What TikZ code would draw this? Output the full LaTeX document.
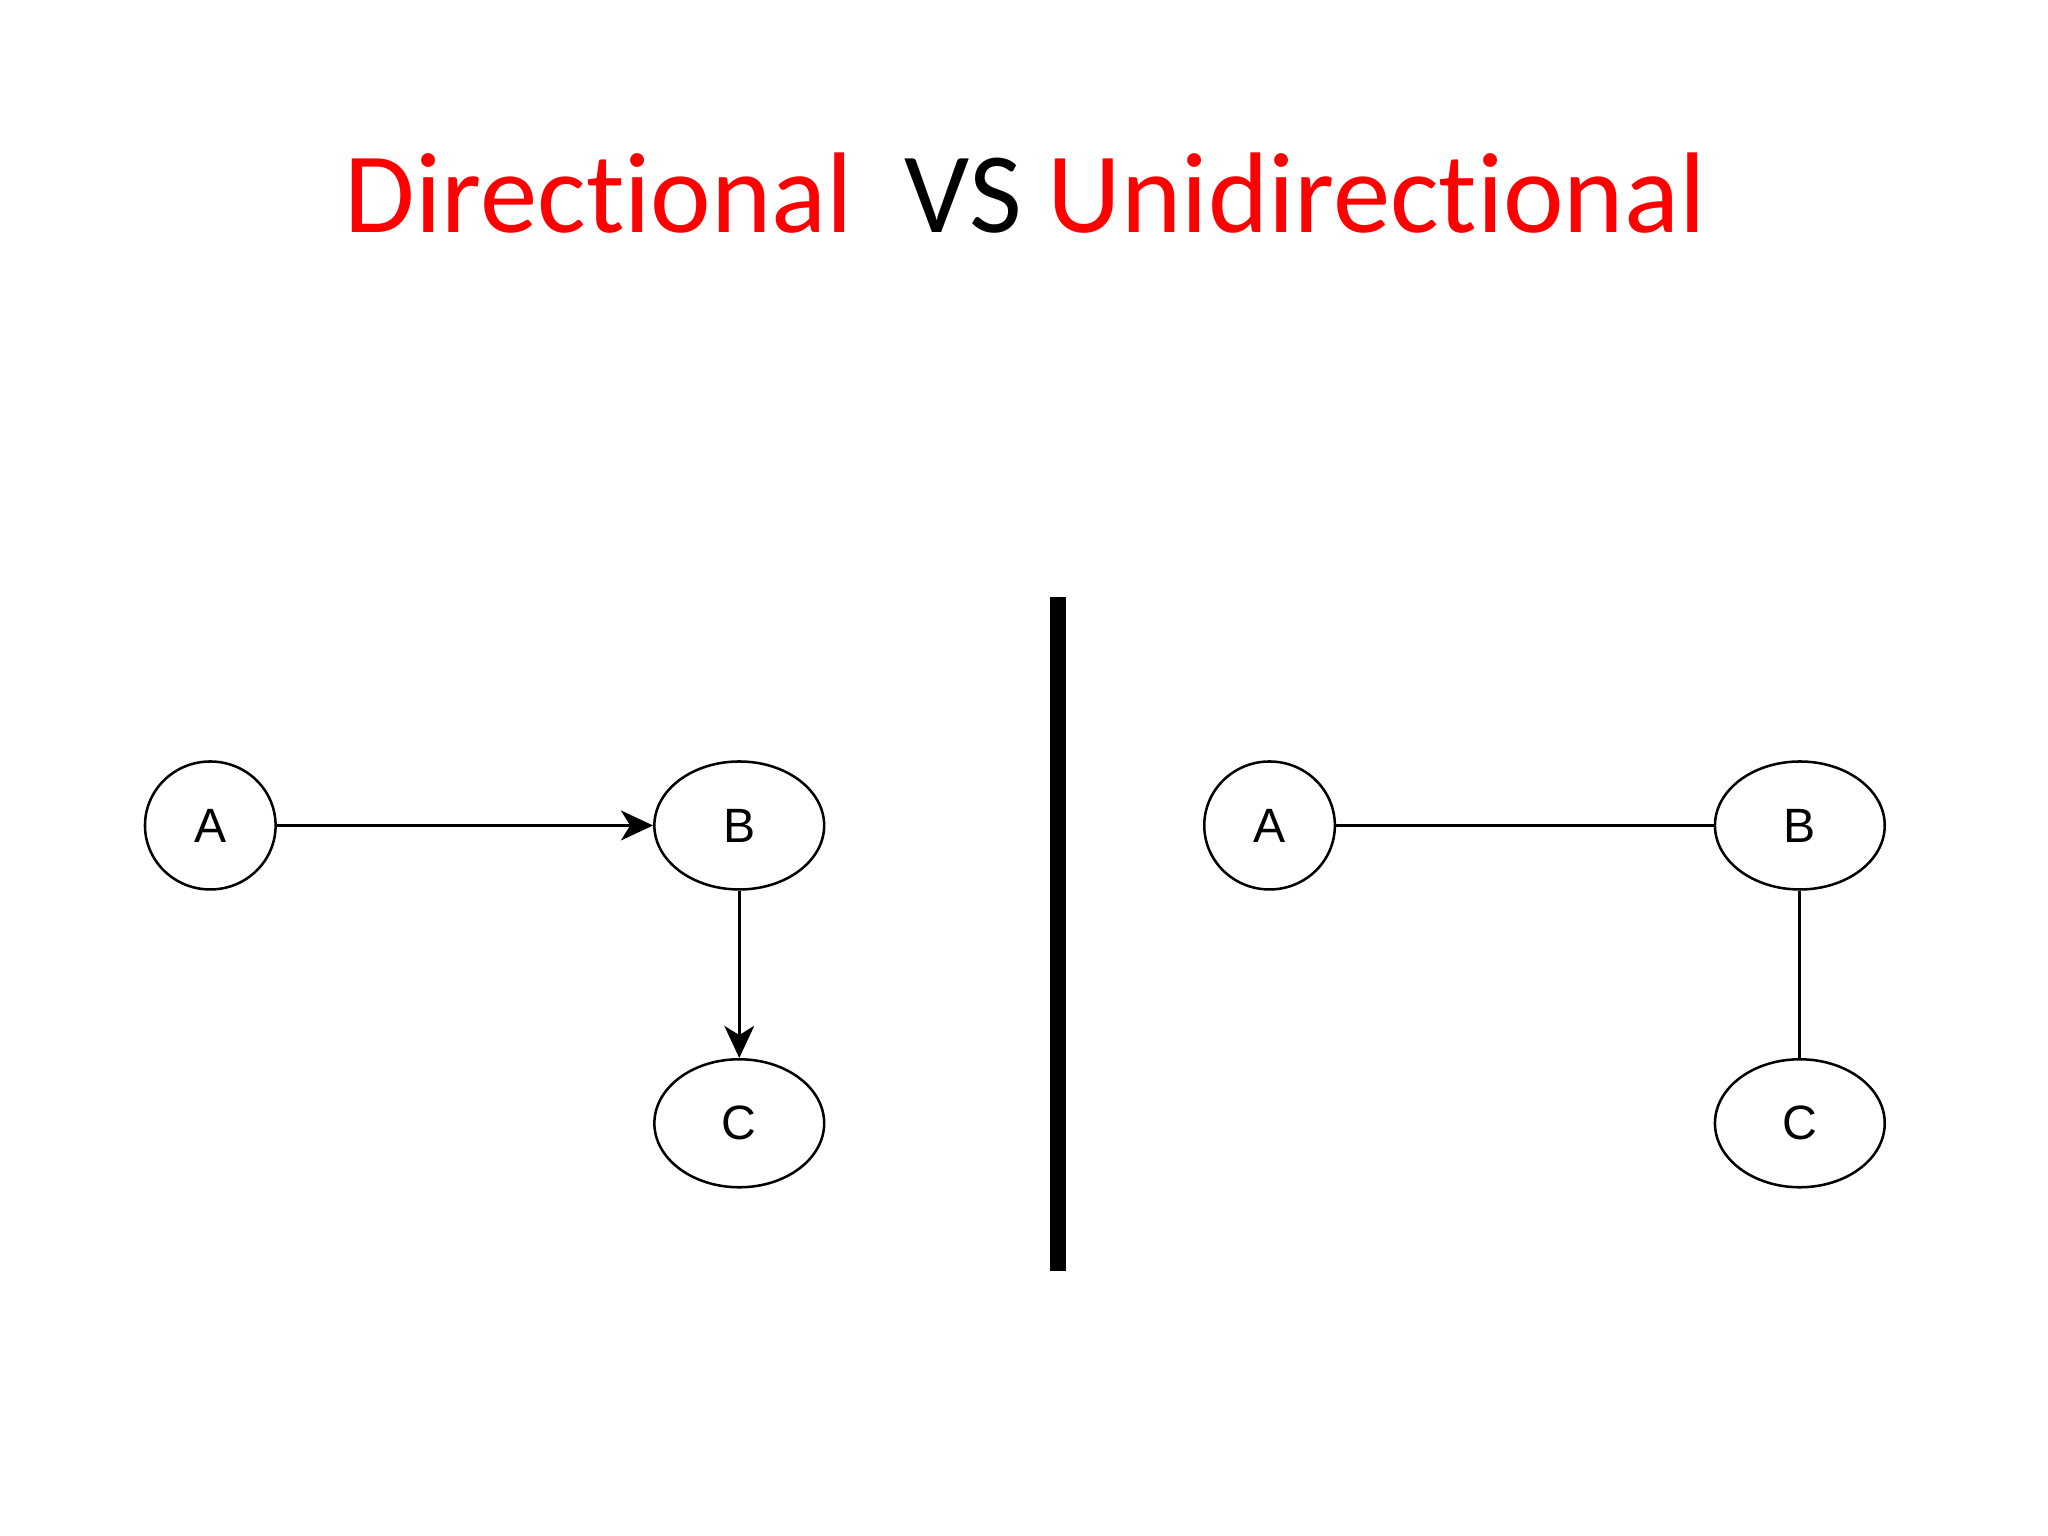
\documentclass[tikz,border=0pt]{standalone}
\usepackage{fontspec}
\setmainfont[Ligatures={NoCommon,NoRequired,NoContextual}]{Carlito}
\newfontfamily\nodefont{Liberation Sans}
\usetikzlibrary{shapes.geometric,arrows.meta}
\begin{document}
\begin{tikzpicture}[x=0.02cm,y=-0.02cm,
  nd/.style={draw,ellipse,line width=1.1pt,minimum width=#1*0.02cm,minimum height=98*0.02cm,inner sep=0pt,font=\nodefont\fontsize{21}{24}\selectfont},
  nd/.default=130,
  con/.style={line width=1.2pt},
  arr/.style={con,-{Stealth[length=14pt,width=13pt,inset=4pt]}}]
\useasboundingbox (0,0) rectangle (1568,1176);
\fill[white] (0,0) rectangle (1568,1176);
\node (title) at (785,148) {\fontsize{50}{58}\selectfont\color{red}Directional\ \ \color{black}VS \color{red}Unidirectional};
% left
\node[nd=100] (la) at (161,632) {A};
\node[nd] (lb) at (566,632) {B};
\node[nd] (lc) at (566,860) {C};
\draw[arr] (la) -- (lb);
\draw[arr] (lb) -- (lc);
% divider
\coordinate (d1) at (810,457);
\coordinate (d2) at (810,973);
\draw[line width=6.8pt] (d1) -- (d2);
% right
\node[nd=100] (ra) at (972,632) {A};
\node[nd] (rb) at (1378,632) {B};
\node[nd] (rc) at (1378,860) {C};
\draw[con] (ra) -- (rb);
\draw[con] (rb) -- (rc);
\end{tikzpicture}
\end{document}
